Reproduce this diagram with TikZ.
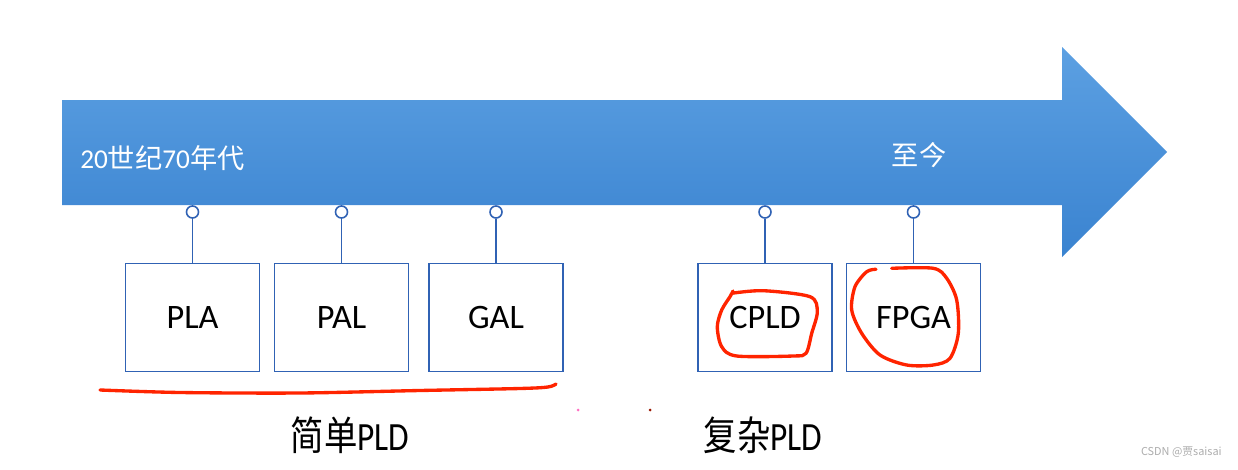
\documentclass[tikz,border=0pt]{standalone}
\usepackage{fontspec}
\setmainfont{Carlito}
\newfontfamily\cjk{Noto Sans CJK SC}
\usetikzlibrary{positioning}
\definecolor{arrtop}{HTML}{5CA0E2}
\definecolor{arrbot}{HTML}{3A83D0}
\definecolor{boxblue}{HTML}{3062B4}
\definecolor{pen}{HTML}{FF2400}

\begin{document}
\begin{tikzpicture}[x=0.02cm,y=-0.02cm,
  dev/.style={draw=boxblue,line width=0.9pt,minimum width=2.68cm,minimum height=2.16cm,inner sep=0pt,font=\fontsize{19.5}{22}\selectfont},
  pin/.style={circle,draw=boxblue,fill=white,line width=0.9pt,minimum size=0.24cm,inner sep=0pt},
  era/.style={inner sep=0pt,text=white,font=\fontsize{15.5}{18}\selectfont},
  kind/.style={inner sep=0pt,font=\fontsize{19}{22}\selectfont},
  ink/.style={pen,line width=1.9pt,line cap=round,line join=round}]
  \useasboundingbox (0,0) rectangle (1238,470);
  % time arrow
  \shade[top color=arrtop,bottom color=arrbot] (62,100) -- (1062,100) -- (1062,47) -- (1167,152)
    -- (1062,257) -- (1062,205) -- (62,205) -- cycle;
  \node[era,anchor=west] (start) at (80,158) {20{\cjk 世纪}70{\cjk 年代}};
  \node[era] (now) at (919,155) {\cjk 至今};
  % devices
  \foreach \n/\x/\t in {pla/192.5/PLA,pal/341.5/PAL,gal/496/GAL,cpld/765/CPLD,fpga/913.5/FPGA} {
    \node[dev] (\n) at (\x,317.5) {\t};
    \node[pin] (\n-pin) at (\x,212) {};
    \draw[boxblue,line width=0.9pt] (\n-pin) -- (\n);
  }
  \node[kind] (simple) at (350,435) {\scalebox{1}[1.2]{{\cjk 简单}PLD}};
  \node[kind] (complex) at (763,435) {\scalebox{1}[1.2]{{\cjk 复杂}PLD}};
  % hand marks
  \draw[ink] plot[smooth] coordinates {(100,390) (180,392.5) (300,393) (420,390.5) (520,388.5) (548,387) (556,384)};
  \draw[ink] plot[smooth] coordinates {(731.7,293.3) (763.3,290.7) (810,296.7) (817.3,311.7) (811.7,333.3)
    (806,353.3) (793.3,356) (736.7,356) (721.7,346.7) (717.3,326.7) (721.7,310) (730,296.7) (733,291)};
  \draw[ink] plot[smooth] coordinates {(891.7,268.3) (933.3,268.3) (946.7,278.3) (956.7,300) (958.3,333.3)
    (950,358.3) (933.3,365) (906.7,365) (880,355) (861.7,333.3) (851.7,310) (855,286.7) (866.7,271.7) (876,269.3)};
  \fill[pen!40!magenta!60] (578,410) circle (1.5);
  \fill[pen!60!black] (650,410) circle (1.5);
  \node[anchor=east,inner sep=0pt,text=gray!65,font=\cjk\fontsize{6.2}{7}\selectfont] (mark) at (1222,452) {CSDN @贾saisai};
\end{tikzpicture}
\end{document}
